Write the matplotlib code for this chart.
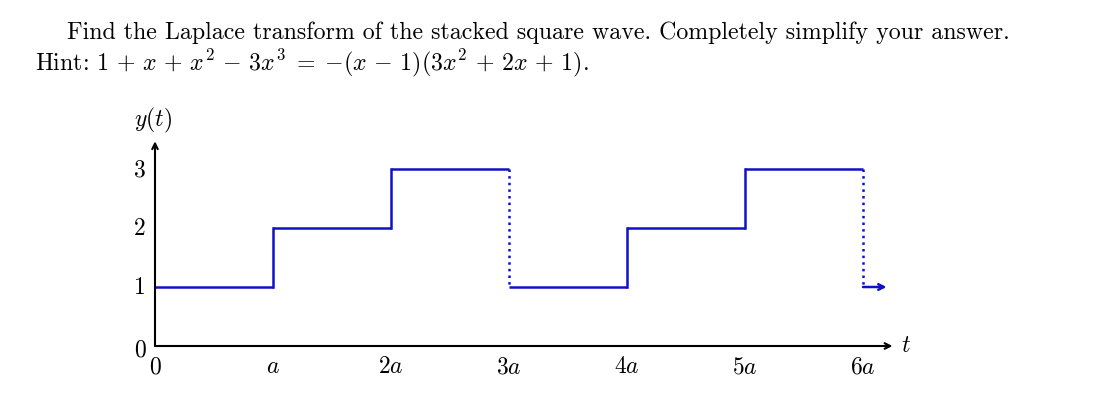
import matplotlib
matplotlib.use("Agg")
import matplotlib.pyplot as plt

plt.rcParams['mathtext.fontset'] = 'cm'
plt.rcParams['font.family'] = ['cmr10', 'DejaVu Serif']
plt.rcParams['axes.unicode_minus'] = False

# step data of the stacked square wave (t in units of a)
t_edges = [0, 1, 2, 3, 4, 5, 6]
levels = [1, 2, 3, 1, 2, 3]
end_level = 1

xtick_pos = [0, 1, 2, 3, 4, 5, 6]
xtick_lab = ['0', r'$a$', r'$2a$', r'$3a$', r'$4a$', r'$5a$', r'$6a$']
ytick_pos = [0, 1, 2, 3]
ytick_lab = ['0', '1', '2', '3']

blue = '#1010c8'

fig = plt.figure(figsize=(11, 4.04), dpi=100)
ax = fig.add_axes([0, 0, 1, 1])
# map data units onto pixel layout of the reference
ax.set_xlim(-155 / 118, (1100 - 155) / 118)
ax.set_ylim((346 - 404) / 59, 346 / 59)
ax.axis('off')

fig.text(67 / 1100, 1 - 33 / 404,
         "Find the Laplace transform of the stacked square wave. Completely simplify your answer.",
         fontsize=17.2, va='center', ha='left')
hint = (r"Hint: $1 \,+\, x \,+\, x^2 \,-\, 3x^3 \;=\; {-}(x \,-\, 1)"
        r"(3x^2 \,+\, 2x \,+\, 1)$.")
fig.text(35 / 1100, 1 - 63 / 404, hint, fontsize=17.2, va='center', ha='left')

# axes with arrows
ax.annotate('', xy=(6.25, 0), xytext=(0, 0),
            arrowprops=dict(arrowstyle='->', lw=1.5, color='black', shrinkA=0, shrinkB=0))
ax.annotate('', xy=(0, 3.47), xytext=(0, 0),
            arrowprops=dict(arrowstyle='->', lw=1.5, color='black', shrinkA=0, shrinkB=0))

# horizontal pieces and jumps
for i, lv in enumerate(levels):
    ax.plot([t_edges[i], t_edges[i + 1]], [lv, lv], color=blue, lw=1.8, solid_capstyle='butt')
    if i + 1 < len(levels):
        nxt = levels[i + 1]
        style = '-' if nxt > lv else ':'
        ax.plot([t_edges[i + 1]] * 2, [lv, nxt], color=blue, lw=1.8, ls=style)
ax.plot([t_edges[-1]] * 2, [levels[-1], end_level], color=blue, lw=1.8, ls=':')
ax.annotate('', xy=(6.2, end_level), xytext=(t_edges[-1], end_level),
            arrowprops=dict(arrowstyle='->', lw=1.8, color=blue, shrinkA=0, shrinkB=0))

for p, lab in zip(xtick_pos, xtick_lab):
    ax.text(p, -0.46, lab, fontsize=17, ha='center', va='baseline')
for p, lab in zip(ytick_pos, ytick_lab):
    yy = -0.17 if p == 0 else p - 0.127
    ax.text(-0.08, yy, lab, fontsize=17, ha='right', va='baseline')

ax.text(-0.02, 3.83, r'$y(t)$', fontsize=17, ha='center', va='center')
ax.text(6.36, 0.0, r'$t$', fontsize=17, ha='center', va='center')

fig.savefig('out.png', dpi=100)
